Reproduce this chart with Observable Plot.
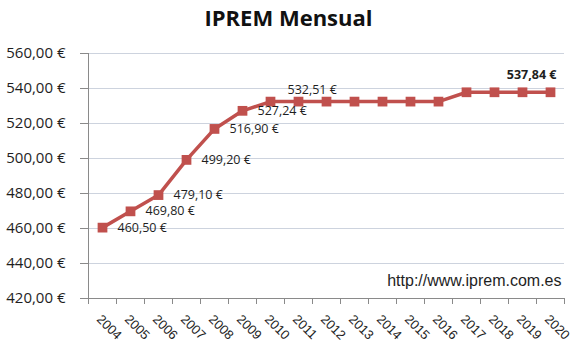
<!DOCTYPE html>
<html>
<head>
<meta charset="utf-8">
<script src="https://cdn.jsdelivr.net/npm/d3@7"></script>
<script src="https://cdn.jsdelivr.net/npm/@observablehq/plot@0.6"></script>
<style>
  html, body { margin: 0; padding: 0; background: #fff; }
</style>
</head>
<body>
<div id="chart"></div>
<script>
const title = "IPREM Mensual";
const watermark = "http://www.iprem.com.es";
const years = [2004, 2005, 2006, 2007, 2008, 2009, 2010, 2011, 2012, 2013, 2014, 2015, 2016, 2017, 2018, 2019, 2020];
const values = [460.50, 469.80, 479.10, 499.20, 516.90, 527.24, 532.51, 532.51, 532.51, 532.51, 532.51, 532.51, 532.51, 537.84, 537.84, 537.84, 537.84];
const yTicks = [420, 440, 460, 480, 500, 520, 540, 560];
const rightLabelYears = [2004, 2005, 2006, 2007, 2008, 2009];
const topLabelYears = [2010];
const boldLabelYears = [2020];

const data = years.map((year, i) => ({year, value: values[i]}));
const fmt = v => v.toFixed(2).replace(".", ",") + " €";
const pick = ys => data.filter(d => ys.includes(d.year));
const boundaries = years.map(y => y - 0.5).concat([years[years.length - 1] + 0.5]);

const red = "#C0504D";
const axisGray = "#8a8a8a";
const textColor = "#1e1e1e";

const chart = Plot.plot({
  width: 580,
  height: 353,
  marginLeft: 88,
  marginRight: 16,
  marginTop: 53,
  marginBottom: 55,
  style: {fontFamily: "'Open Sans', sans-serif", background: "#fff"},
  x: {domain: [years[0] - 0.5, years[years.length - 1] + 0.5], label: null},
  y: {domain: [yTicks[0], yTicks[yTicks.length - 1]], label: null},
  marks: [
    Plot.gridY({ticks: yTicks, stroke: "#cdd3de", strokeOpacity: 1, strokeWidth: 1}),
    Plot.ruleY([yTicks[0]], {stroke: axisGray}),
    Plot.ruleX([years[0] - 0.5], {stroke: axisGray}),
    Plot.axisY({ticks: yTicks, tickFormat: fmt, tickSize: 8, tickPadding: 15, fontSize: 15, stroke: axisGray, fill: textColor, label: null}),
    Plot.axisX({ticks: boundaries, tickFormat: () => "", tickSize: 6, stroke: axisGray, label: null}),
    Plot.axisX({ticks: years, tickFormat: d => String(d), tickSize: 0, tickPadding: 15, tickRotate: 45, label: null,
      textAnchor: "start", lineAnchor: "top", fontSize: 13, fontFamily: "'Liberation Sans', Arial, sans-serif", fill: textColor}),
    Plot.line(data, {x: "year", y: "value", stroke: red, strokeWidth: 3.5}),
    Plot.dot(data, {x: "year", y: "value", symbol: "square", r: 5.5, fill: red, stroke: "none"}),
    Plot.text(pick(rightLabelYears), {x: "year", y: "value", text: d => fmt(d.value), textAnchor: "start", dx: 15, fontSize: 12.5, fill: textColor}),
    Plot.text(pick(topLabelYears), {x: "year", y: "value", text: d => fmt(d.value), textAnchor: "start", dx: 17, dy: -12, fontSize: 12.5, fill: textColor}),
    Plot.text(pick(boldLabelYears), {x: "year", y: "value", text: d => fmt(d.value), textAnchor: "end", dx: 6, dy: -17, fontSize: 12.5, fontWeight: "bold", fill: textColor}),
    Plot.text([watermark], {frameAnchor: "bottom-right", dx: -3, dy: -18, lineAnchor: "middle", textAnchor: "end",
      fontSize: 16, fontFamily: "'Liberation Sans', Arial, sans-serif", fill: textColor}),
    Plot.text([title], {frameAnchor: "top", dx: -38, dy: -35, lineAnchor: "middle", fontSize: 22, fontWeight: "bold", fill: "#111"})
  ]
});
document.getElementById("chart").appendChild(chart);
</script>
</body>
</html>
